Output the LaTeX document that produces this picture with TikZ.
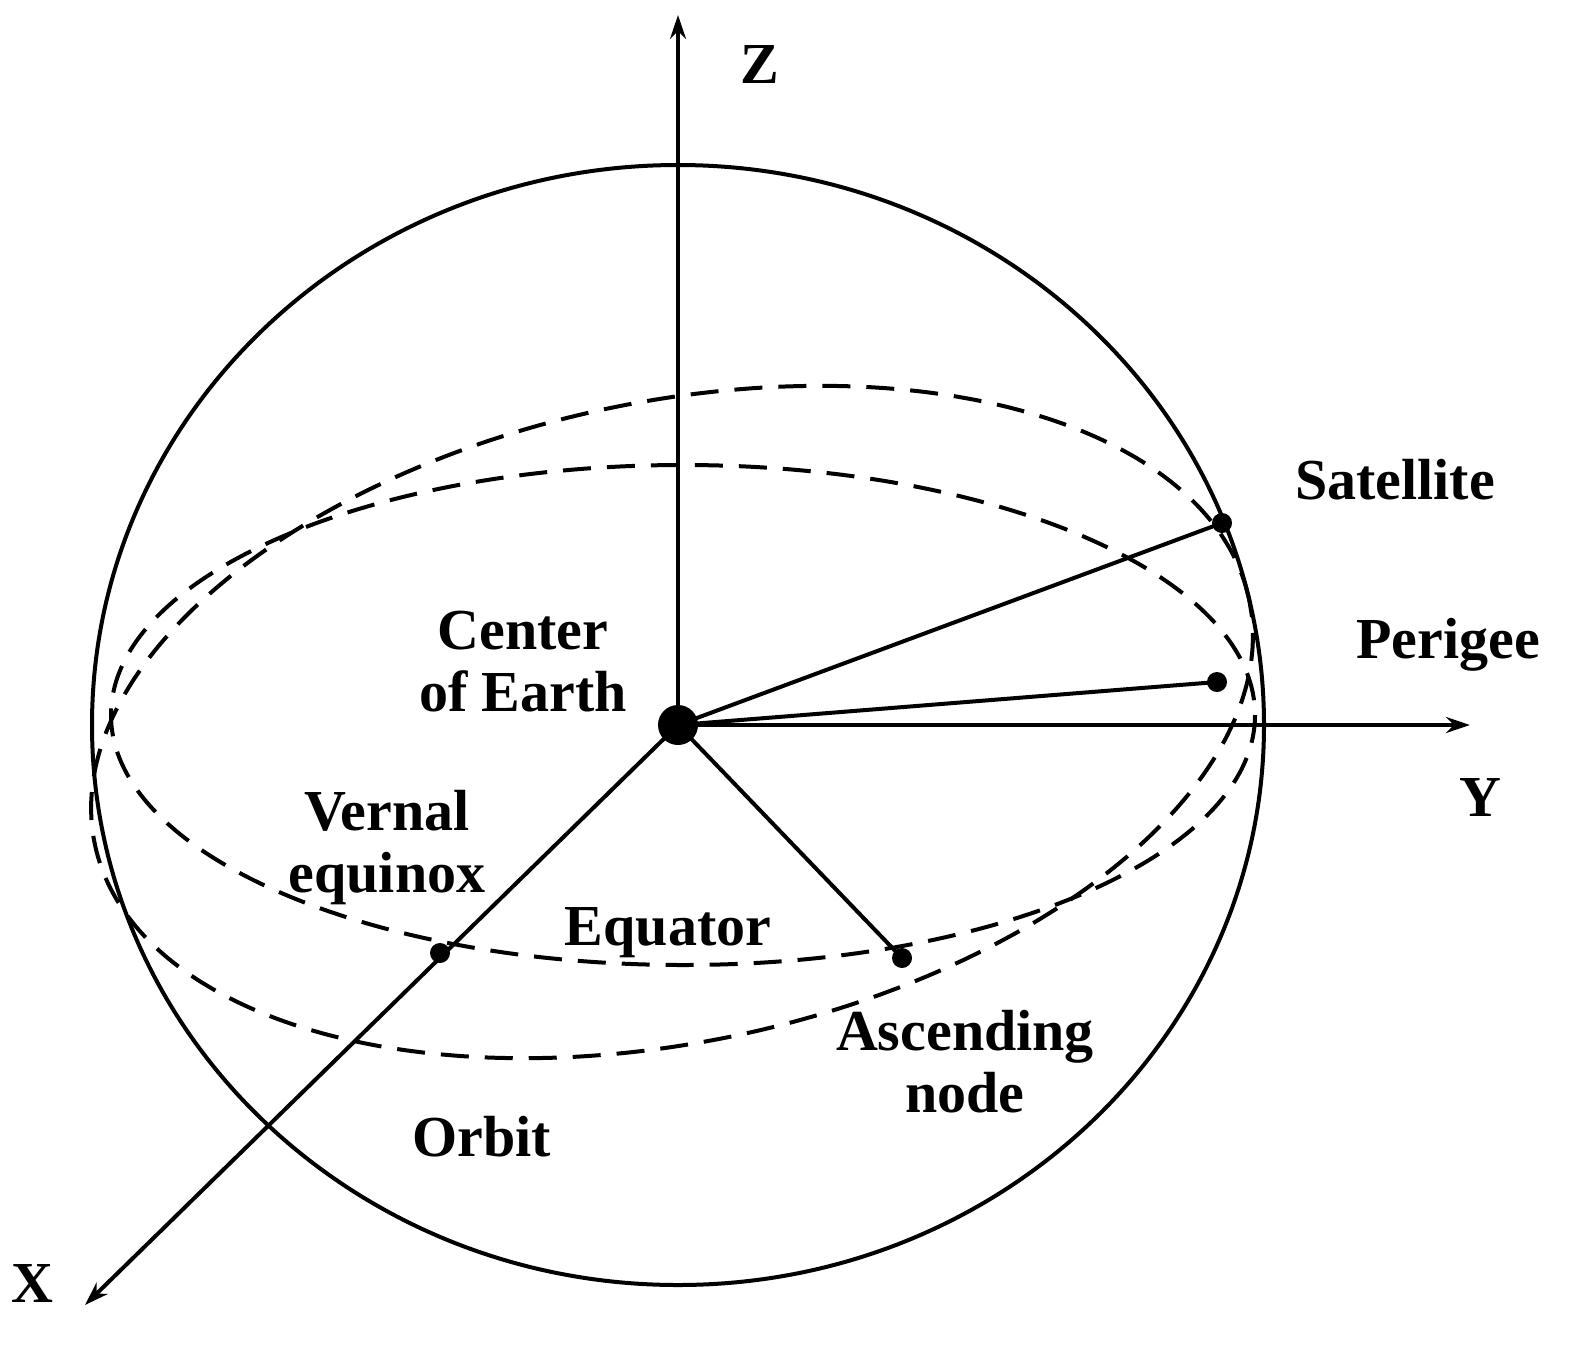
\documentclass[tikz,border=0pt]{standalone}
\usepackage{fontspec}
\setmainfont{Liberation Serif}
\usetikzlibrary{arrows.meta}
\begin{document}
\begin{tikzpicture}[x=0.5pt,y=-0.5pt,
  lbl/.style={font=\fontsize{29}{31}\selectfont\bfseries,align=center,inner sep=0},
  ln/.style={line width=2pt},
  dsh/.style={line width=2pt,dash pattern=on 14pt off 8pt},
  ax/.style={line width=2pt,-{Stealth[length=12pt,width=8pt]}},
  dot/.style={circle,fill=black,inner sep=0,minimum size=#1}]
\useasboundingbox (0,0) rectangle (1584,1344);
\coordinate (O) at (678,725);
\draw[ln] (678,725) ellipse [x radius=586, y radius=560];
\draw[dsh] (683,715) ellipse [x radius=572, y radius=250];
\draw[dsh] plot[domain=0:360,samples=120,smooth] ({672+590*cos(\x)*cos(12)-320*sin(\x)*sin(12)},{722-590*cos(\x)*sin(12)-320*sin(\x)*cos(12)});
\node[dot=20pt] (c) at (O) {};
\node[dot=10pt] (sat) at (1222,523) {};
\node[dot=10pt] (per) at (1217,682) {};
\node[dot=10pt] (asc) at (902,958) {};
\node[dot=10pt] (ver) at (440,953) {};
\coordinate (zt) at (678,15);
\coordinate (yt) at (1470,725);
\coordinate (xt) at (85,1305);
\draw[ax] (c.center) -- (zt);
\draw[ax] (c.center) -- (yt);
\draw[ax] (c.center) -- (xt);
\draw[ln] (c.center) -- (sat.center);
\draw[ln] (c.center) -- (per.center);
\draw[ln] (c.center) -- (asc.center);
\node[lbl] (lz) at (760,65) {Z};
\node[lbl] (ls) at (1395,480) {Satellite};
\node[lbl] (lp) at (1448,645) {Perigee};
\node[lbl] (ly) at (1480,797) {Y};
\node[lbl] (lc) at (523,662) {Center\\of Earth};
\node[lbl] (lv) at (387,848) {Vernal\\equinox};
\node[lbl] (le) at (668,933) {Equator};
\node[lbl] (la) at (965,1062) {Ascending\\node};
\node[lbl] (lo) at (482,1137) {Orbit};
\node[lbl] (lx) at (32,1283) {X};
\end{tikzpicture}
\end{document}
